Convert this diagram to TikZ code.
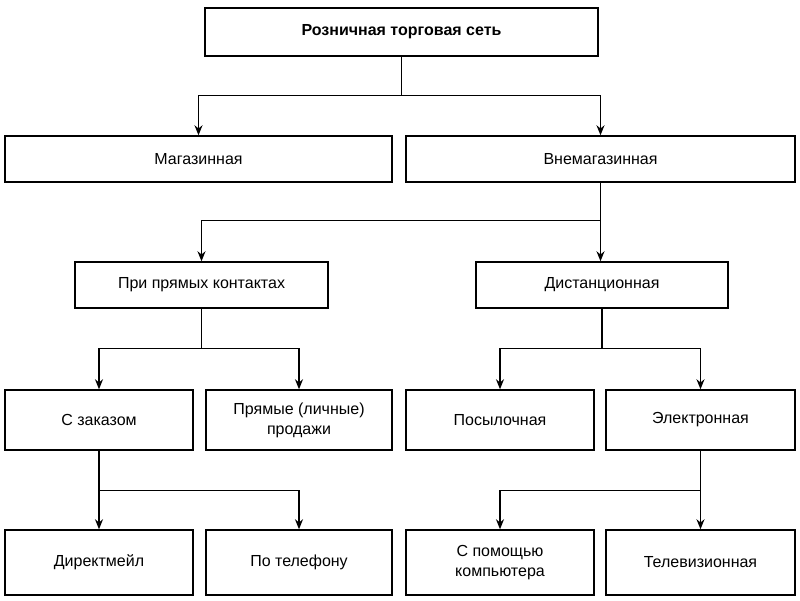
\documentclass[tikz,border=0pt]{standalone}
\usepackage{fontspec}
\setmainfont{Liberation Sans}
\usetikzlibrary{arrows.meta,calc}
\begin{document}
\begin{tikzpicture}[x=1pt,y=-1pt,
  box/.style={draw,line width=1.5pt,inner sep=0pt,align=center,font=\fontsize{16}{20}\selectfont},
  arr/.style={line width=1.3pt,-{Stealth[length=10pt,width=8pt]}},
  ln/.style={line width=1.3pt}]
\useasboundingbox (0,0) rectangle (800,600);
\newcommand{\bx}[6]{\node[box,minimum width=#4-#2,minimum height=#5-#3] (#1) at ({(#2+#4)/2},{(#3+#5)/2}) {#6};}
\bx{top}{205}{8}{598}{56}{\textbf{Розничная торговая сеть}}
\bx{mag}{5}{136}{392}{182}{Магазинная}
\bx{vne}{406}{136}{795}{182}{Внемагазинная}
\bx{pri}{75}{262}{328}{308}{При прямых контактах}
\bx{dis}{476}{262}{728}{308}{Дистанционная}
\bx{zak}{5}{390}{193}{450}{С заказом}
\bx{pry}{206}{390}{392}{450}{Прямые (личные)\\продажи}
\bx{pos}{406}{390}{594}{450}{Посылочная}
\bx{ele}{606}{390}{795}{450}{Электронная}
\bx{dir}{5}{530}{193}{595}{Директмейл}
\bx{tel}{206}{530}{392}{595}{По телефону}
\bx{kom}{406}{530}{594}{595}{С помощью\\компьютера}
\bx{tv}{606}{530}{795}{595}{Телевизионная}
\coordinate (j1) at ($(top.south)+(0,39)$);
\draw[ln] (top.south) -- (j1);
\draw[arr] (j1) -| (mag.north);
\draw[arr] (j1) -| (vne.north);
\coordinate (j2) at ($(vne.south)+(0,38)$);
\draw[ln] (vne.south) -- (j2);
\draw[arr] (j2) -| (pri.north);
\draw[arr] (j2) -- (j2 |- dis.north);
\coordinate (j3) at ($(pri.south)+(0,40)$);
\draw[ln] (pri.south) -- (j3);
\draw[arr] (j3) -| (zak.north);
\draw[arr] (j3) -| (pry.north);
\coordinate (j4) at ($(dis.south)+(0,40)$);
\draw[ln] (dis.south) -- (j4);
\draw[arr] (j4) -| (pos.north);
\draw[arr] (j4) -| (ele.north);
\coordinate (j5) at ($(zak.south)+(0,40)$);
\draw[ln] (zak.south) -- (j5);
\draw[arr] (j5) -- (j5 |- dir.north);
\draw[arr] (j5) -| (tel.north);
\coordinate (j6) at ($(ele.south)+(0,40)$);
\draw[ln] (ele.south) -- (j6);
\draw[arr] (j6) -| (kom.north);
\draw[arr] (j6) -- (j6 |- tv.north);
\end{tikzpicture}
\end{document}
